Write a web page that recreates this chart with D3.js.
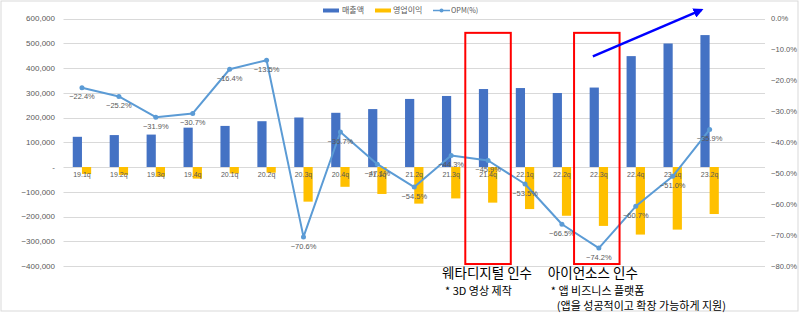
<!DOCTYPE html>
<html><head><meta charset="utf-8">
<script src="https://cdn.jsdelivr.net/npm/d3@7"></script>
<style>
body{margin:0;background:#fff;}
svg{display:block;font-family:"Liberation Sans","Noto Sans CJK KR",sans-serif;}
</style></head>
<body><svg id="c" width="800" height="318"></svg>
<script>
const categories = ["19.1q","19.2q","19.3q","19.4q","20.1q","20.2q","20.3q","20.4q","21.1q","21.2q","21.3q","21.4q","22.1q","22.2q","22.3q","22.4q","23.1q","23.2q"];
const revenue = [122000,129000,131000,159000,166000,185000,200000,219000,234000,275000,287000,315000,319000,299000,321000,448000,499000,533000];
const opProfit = [-28000,-32000,-39000,-47000,-26000,-23000,-140000,-80000,-109000,-148000,-127000,-144000,-170000,-197000,-238000,-273000,-253000,-190000];
const opm = [-22.4,-25.2,-31.9,-30.7,-16.4,-13.5,-70.6,-36.7,-47.1,-54.5,-44.3,-45.9,-53.5,-66.5,-74.2,-60.7,-51.0,-35.9];
const leftTicks = [600000,500000,400000,300000,200000,100000,0,-100000,-200000,-300000,-400000];
const rightTicks = [0,-10,-20,-30,-40,-50,-60,-70,-80];
const legendLabels = ["매출액","영업이익","OPM(%)"];
const acquisitions = [
  {cat:"21.4q", title:"웨타디지털 인수", notes:["* 3D 영상 제작"]},
  {cat:"22.3q", title:"아이언소스 인수", notes:["* 앱 비즈니스 플랫폼","(앱을 성공적이고 확장 가능하게 지원)"]}
];

const svg = d3.select("#c");
const C = {blue:"#4472c4", yellow:"#ffc000", line:"#5b9bd5", text:"#595959", grid:"#d9d9d9"};
const x = d3.scaleBand().domain([...categories, "__blank"]).range([63.5, 765]).paddingInner(0).paddingOuter(0);
const yL = d3.scaleLinear().domain([-400000, 600000]).range([266, 18.5]);
const yR = d3.scaleLinear().domain([-80, 0]).range([266, 18.5]);
const cx = c => x(c) + x.bandwidth()/2;
const bw = 9.2;

// border
svg.append("rect").attr("x",1).attr("y",1).attr("width",797).attr("height",310)
  .attr("fill","none").attr("stroke","#d9d9d9").attr("stroke-width",1);

// gridlines
svg.append("g").selectAll("line").data(leftTicks).join("line")
  .attr("x1",63.5).attr("x2",765)
  .attr("y1",d=>Math.round(yL(d))+0.5).attr("y2",d=>Math.round(yL(d))+0.5)
  .attr("stroke",C.grid).attr("stroke-width",1);

// left axis labels
const fmt = d3.format(",");
svg.append("g").selectAll("text").data(leftTicks).join("text")
  .attr("x",55).attr("y",d=>yL(d)).attr("dy","0.35em").attr("text-anchor","end")
  .attr("font-size",8).attr("fill",C.text)
  .text(d=> d===0 ? "-" : fmt(d));

// right axis labels
svg.append("g").selectAll("text").data(rightTicks).join("text")
  .attr("x",771).attr("y",d=>yR(d)).attr("dy","0.35em").attr("text-anchor","start")
  .attr("font-size",7.6).attr("fill",C.text)
  .text(d=> d3.format(".1f")(d)+"%");

// bars
svg.append("g").selectAll("rect").data(categories).join("rect")
  .attr("x",(c)=>cx(c)-bw).attr("width",bw)
  .attr("y",(c,i)=>yL(revenue[i])).attr("height",(c,i)=>yL(0)-yL(revenue[i]))
  .attr("fill",C.blue);
svg.append("g").selectAll("rect").data(categories).join("rect")
  .attr("x",(c)=>cx(c)).attr("width",bw)
  .attr("y",yL(0)).attr("height",(c,i)=>yL(opProfit[i])-yL(0))
  .attr("fill",C.yellow);

// category labels
svg.append("g").selectAll("text").data(categories).join("text")
  .attr("x",c=>cx(c)).attr("y",yL(0)+8).attr("dy","0.35em").attr("text-anchor","middle")
  .attr("font-size",7).attr("fill",C.text).text(c=>c);

// OPM line
const line = d3.line().x((d,i)=>cx(categories[i])).y(d=>yR(d));
svg.append("path").datum(opm).attr("d",line).attr("fill","none")
  .attr("stroke",C.line).attr("stroke-width",2).attr("stroke-linejoin","round");
svg.append("g").selectAll("circle").data(opm).join("circle")
  .attr("cx",(d,i)=>cx(categories[i])).attr("cy",d=>yR(d)).attr("r",2.5).attr("fill",C.line);
svg.append("g").selectAll("text").data(opm).join("text")
  .attr("x",(d,i)=>cx(categories[i])).attr("y",d=>yR(d)+9).attr("dy","0.35em")
  .attr("text-anchor","middle").attr("font-size",7.5).attr("fill",C.text)
  .text(d=>d3.format(".1f")(d)+"%");

// legend
const lg = svg.append("g").attr("font-family","Noto Sans CJK KR, Liberation Sans, sans-serif").attr("font-size",8).attr("fill",C.text);
lg.append("rect").attr("x",323).attr("y",8.5).attr("width",16).attr("height",4).attr("fill",C.blue);
lg.append("text").attr("x",342).attr("y",10.5).attr("dy","0.35em").text(legendLabels[0]);
lg.append("rect").attr("x",375).attr("y",8.5).attr("width",16).attr("height",4).attr("fill",C.yellow);
lg.append("text").attr("x",393).attr("y",10.5).attr("dy","0.35em").text(legendLabels[1]);
lg.append("line").attr("x1",433).attr("x2",450).attr("y1",10.5).attr("y2",10.5).attr("stroke",C.line).attr("stroke-width",1.5);
lg.append("circle").attr("cx",441.5).attr("cy",10.5).attr("r",2).attr("fill",C.line);
lg.append("text").attr("x",451).attr("y",10.5).attr("dy","0.35em").attr("font-size",7.2).text(legendLabels[2]);

// red boxes
const boxShift = [0, -2];
svg.append("g").selectAll("rect").data(acquisitions).join("rect")
  .attr("x",(d,i)=>cx(d.cat)-22.8+boxShift[i]).attr("width",45.5)
  .attr("y",yL(542000)).attr("height",yL(-392000)-yL(542000))
  .attr("fill","none").attr("stroke","#ff0000").attr("stroke-width",2);

// annotation texts
const ann = svg.append("g").attr("font-family","Noto Sans CJK KR, sans-serif").attr("fill","#000");
acquisitions.forEach((a,i)=>{
  const left = cx(a.cat) - (i===0 ? 46 : 51);
  ann.append("text").attr("x",left).attr("y",273).attr("dy","0.35em").attr("font-size",13.5).text(a.title);
  a.notes.forEach((n,j)=>{
    ann.append("text").attr("x",left + (j===0?3:9)).attr("y",291 + j*14.8).attr("dy","0.35em").attr("font-size",11).text(n);
  });
});

// blue arrow
const defs = svg.append("defs");
defs.append("marker").attr("id","ah").attr("viewBox","0 0 10 10").attr("refX",8).attr("refY",5)
  .attr("markerWidth",4).attr("markerHeight",4).attr("orient","auto")
  .append("path").attr("d","M0,0 L10,5 L0,10 z").attr("fill","#0000ff");
svg.append("line")
  .attr("x1",cx("22.3q")-6).attr("y1",yL(447000))
  .attr("x2",cx("23.2q")-8).attr("y2",yL(635000))
  .attr("stroke","#0000ff").attr("stroke-width",2.5).attr("marker-end","url(#ah)");
</script></body></html>
